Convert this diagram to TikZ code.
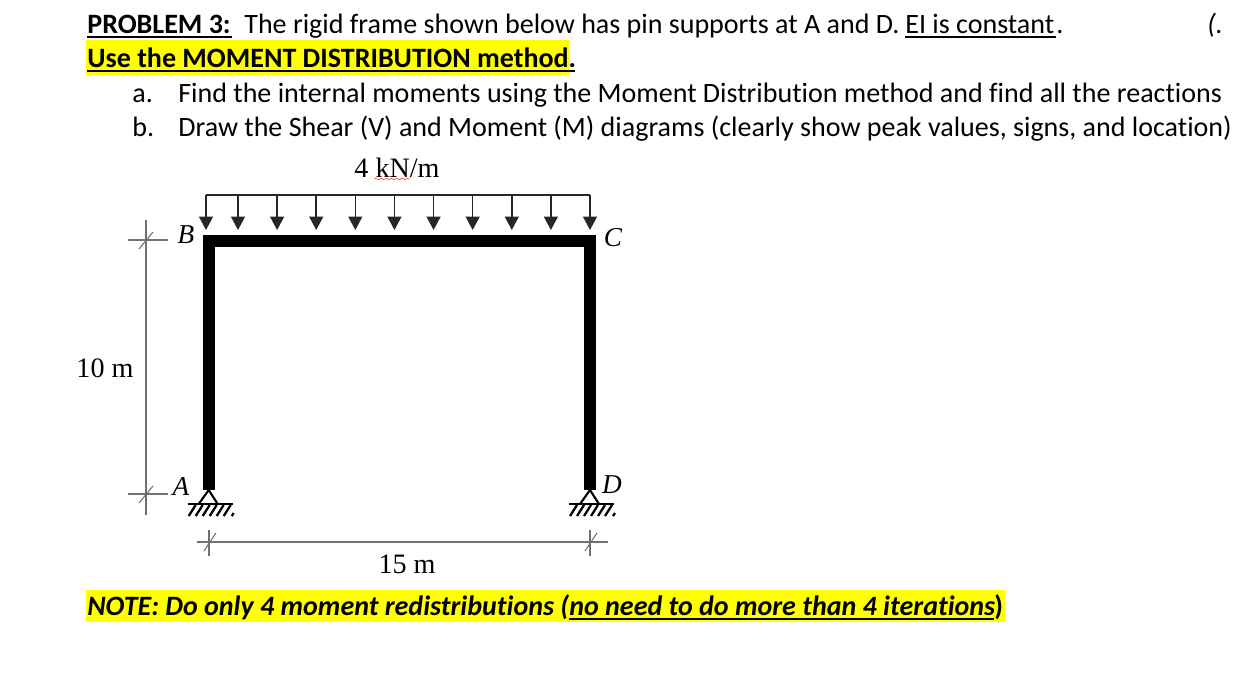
\documentclass[tikz,border=0pt]{standalone}
\usepackage{fontspec}
\usepackage{xcolor}
\usetikzlibrary{arrows.meta}
\usetikzlibrary{calc}
\usetikzlibrary{decorations.pathmorphing}
\setmainfont[Ligatures=NoCommon]{Carlito}
\newfontfamily\labelfont{Liberation Serif}
\definecolor{mark-yellow}{HTML}{FFFF00}
\definecolor{dim-grey}{HTML}{707070}
\tikzset{
    sheettext/.style={anchor=base west, inner sep=0pt, font=\fontsize{15.95}{19}\selectfont},
    figlabel/.style={inner sep=0pt, font=\labelfont\fontsize{16}{19}\selectfont},
    figletter/.style={inner sep=0pt, font=\labelfont\itshape\fontsize{15.5}{18}\selectfont},
    member/.style={line width=6.6pt, line join=miter},
    dimline/.style={draw=dim-grey, line width=0.6pt},
    loadline/.style={line width=0.9pt, draw=black!85},
    loadarrow/.style={loadline, -{Triangle[length=2.7mm, width=2.8mm]}},
    pinline/.style={line width=1.2pt, draw=black},
}
\begin{document}
\begin{tikzpicture}[x=0.02cm, y=-0.02cm]

    \useasboundingbox (0,0) rectangle (1244,684);

    % highlights
    \fill[mark-yellow] (86,40) rectangle (570,75);
    \fill[mark-yellow] (86,590) rectangle (1005,622);

    % header text
    \node[sheettext] (title) at (87,33) {\textbf{PROBLEM 3:}};
    \node[sheettext] (intro) at (244,33) {The rigid frame shown below has pin supports at A and D.};
    \node[sheettext] (ei) at (905,33) {EI is constant};
    \node[sheettext] (stop) at (1056,33) {.};
    \node[sheettext] (mark) at (1207,33) {\textit{(.}};
    \node[sheettext] (method) at (87,67) {\textbf{Use the MOMENT DISTRIBUTION method.}};
    \node[sheettext] (itema) at (132,102) {a.};
    \node[sheettext] (texta) at (178,102) {Find the internal moments using the Moment Distribution method and find all the reactions};
    \node[sheettext] (itemb) at (132,136) {b.};
    \node[sheettext] (textb) at (178,136) {Draw the Shear (V) and Moment (M) diagrams (clearly show peak values, signs, and location)};
    \node[sheettext] (note) at (87,615) {\textbf{\textit{NOTE: Do only 4 moment redistributions (}}};
    \node[sheettext] (noteb) at (569,615) {\textbf{\textit{no need to do more than 4 iterations}}};
    \node[sheettext] (notec) at (994,615) {\textbf{)}};

    % underlines
    \draw[line width=1.1pt] (87,37) -- (232,37);
    \draw[line width=0.8pt] (905,37) -- (1056,37);
    \draw[line width=1.1pt] (87,71) -- (575,71);
    \draw[line width=1.1pt] (569,619) -- (994,619);

    % joints
    \coordinate (A) at (208.7,490);
    \coordinate (B) at (208.7,241);
    \coordinate (C) at (590,241);
    \coordinate (D) at (590,490);

    % frame
    \draw[member] (A) -- (B) -- (C) -- (D);

    % load
    \coordinate (loadb) at (206,195);
    \coordinate (loadn) at (238,195);
    \coordinate (loadc) at (590,195);
    \draw[loadline] (loadb) -- (loadc);
    \draw[loadarrow] (loadb) -- ++(0,35);
    \foreach \i in {0,...,9} {
        \draw[loadarrow] ($(loadn)!\i/9!(loadc)$) -- ++(0,35);
    }

    % supports
    \foreach \pin in {A,D} {
        \draw[pinline] (\pin) -- ++(-10,14);
        \draw[pinline] (\pin) -- ++(9,14);
        \draw[pinline] ($(\pin)+(-21,14)$) -- ++(45,0);
        \foreach \k in {0,...,5} {
            \draw[line width=1.3pt] ($(\pin)+(-13+\k*7,15)$) -- ++(-7,11);
        }
        \draw[line width=1.3pt] ($(\pin)+(25,23)$) -- ++(-2,3);
    }

    % vertical dimension
    \coordinate (dimtop) at (146,240);
    \coordinate (dimbot) at (146,494);
    \draw[dimline] ($(dimtop)+(0,-20)$) -- ($(dimbot)+(0,21)$);
    \foreach \tick in {dimtop,dimbot} {
        \draw[dimline] ($(\tick)+(-18,0)$) -- ($(\tick)+(22,0)$);
        \draw[dimline] ($(\tick)+(-7,9)$) -- ($(\tick)+(7,-8)$);
    }

    % horizontal dimension
    \coordinate (dimleft) at (209,542);
    \coordinate (dimright) at (590,542);
    \draw[dimline] ($(dimleft)+(-12,0)$) -- ($(dimright)+(18,0)$);
    \foreach \tick in {dimleft,dimright} {
        \draw[dimline] ($(\tick)+(0,-12)$) -- ($(\tick)+(0,14)$);
        \draw[dimline] ($(\tick)+(-5,9)$) -- ($(\tick)+(7,-9)$);
    }

    % labels
    \node[figlabel] (load) at (397,168) {4 kN/m};
    \draw[red!70, line width=0.4pt, decorate, decoration={snake, amplitude=0.4pt, segment length=3pt}] (374,179) -- (410,179);
    \node[figlabel] (height) at (105,368) {10 m};
    \node[figlabel] (span) at (407,564) {15 m};
    \node[figletter] (labelb) at (186,235) {B};
    \node[figletter] (labelc) at (613,238) {C};
    \node[figletter] (labela) at (181,486) {A};
    \node[figletter] (labeld) at (612,485) {D};

\end{tikzpicture}
\end{document}
